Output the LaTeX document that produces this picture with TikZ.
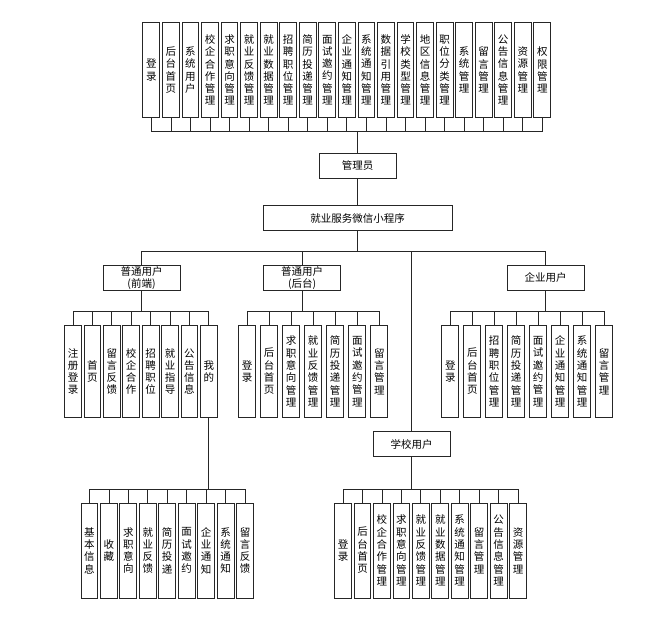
\documentclass[tikz,border=0pt]{standalone}
\usepackage{fontspec}
\setmainfont{Noto Sans CJK SC}

\begin{document}
\begin{tikzpicture}[x=1pt, y=-1pt,
    leaf/.style={rectangle, draw=black!85, line width=0.9pt, fill=white,
                 minimum width=16.8pt, minimum height=95pt, inner sep=0pt,
                 align=center, font=\fontsize{10.5}{12.3}\selectfont},
    leafs/.style={leaf, minimum height=92.5pt},
    role/.style={rectangle, draw=black!85, line width=0.9pt, fill=white,
                 minimum width=77pt, minimum height=25pt, inner sep=0pt,
                 align=center, font=\fontsize{10.5}{12}\selectfont},
    link/.style={draw=black!85, line width=0.8pt}
]
\useasboundingbox (0,0) rectangle (647,630);

% admin functions
\node[leaf] (t1) at (151.3,70) {登\\录};
\node[leaf] (t2) at (170.9,70) {后\\台\\首\\页};
\node[leaf] (t3) at (190.4,70) {系\\统\\用\\户};
\node[leaf] (t4) at (210.0,70) {校\\企\\合\\作\\管\\理};
\node[leaf] (t5) at (229.5,70) {求\\职\\意\\向\\管\\理};
\node[leaf] (t6) at (249.1,70) {就\\业\\反\\馈\\管\\理};
\node[leaf] (t7) at (268.6,70) {就\\业\\数\\据\\管\\理};
\node[leaf] (t8) at (288.2,70) {招\\聘\\职\\位\\管\\理};
\node[leaf] (t9) at (307.7,70) {简\\历\\投\\递\\管\\理};
\node[leaf] (t10) at (327.3,70) {面\\试\\邀\\约\\管\\理};
\node[leaf] (t11) at (346.8,70) {企\\业\\通\\知\\管\\理};
\node[leaf] (t12) at (366.4,70) {系\\统\\通\\知\\管\\理};
\node[leaf] (t13) at (385.9,70) {数\\据\\引\\用\\管\\理};
\node[leaf] (t14) at (405.5,70) {学\\校\\类\\型\\管\\理};
\node[leaf] (t15) at (425.0,70) {地\\区\\信\\息\\管\\理};
\node[leaf] (t16) at (444.6,70) {职\\位\\分\\类\\管\\理};
\node[leaf] (t17) at (464.1,70) {系\\统\\管\\理};
\node[leaf] (t18) at (483.7,70) {留\\言\\管\\理};
\node[leaf] (t19) at (503.2,70) {公\\告\\信\\息\\管\\理};
\node[leaf] (t20) at (522.8,70) {资\\源\\管\\理};
\node[leaf] (t21) at (542.3,70) {权\\限\\管\\理};

% roles
\node[role] (adm) at (357.5,165.5) {管理员};
\node[role, minimum width=189pt] (app) at (357.5,218.3) {就业服务微信小程序};
\node[role] (uf) at (141.5,277.8) {普通用户\\(前端)};
\node[role] (ub) at (302.2,277.8) {普通用户\\(后台)};
\node[role] (ue) at (545.5,277.8) {企业用户};
\node[role] (us) at (411.7,444.2) {学校用户};

% ordinary user, front end
\node[leafs] (f1) at (73.0,371.5) {注\\册\\登\\录};
\node[leafs] (f2) at (92.4,371.5) {首\\页};
\node[leafs] (f3) at (111.8,371.5) {留\\言\\反\\馈};
\node[leafs] (f4) at (131.2,371.5) {校\\企\\合\\作};
\node[leafs] (f5) at (150.6,371.5) {招\\聘\\职\\位};
\node[leafs] (f6) at (170.0,371.5) {就\\业\\指\\导};
\node[leafs] (f7) at (189.4,371.5) {公\\告\\信\\息};
\node[leafs] (f8) at (208.8,371.5) {我\\的};

% ordinary user, back end
\node[leafs] (b1) at (247.0,371.5) {登\\录};
\node[leafs] (b2) at (269.1,371.5) {后\\台\\首\\页};
\node[leafs] (b3) at (291.1,371.5) {求\\职\\意\\向\\管\\理};
\node[leafs] (b4) at (313.2,371.5) {就\\业\\反\\馈\\管\\理};
\node[leafs] (b5) at (335.2,371.5) {简\\历\\投\\递\\管\\理};
\node[leafs] (b6) at (357.3,371.5) {面\\试\\邀\\约\\管\\理};
\node[leafs] (b7) at (379.3,371.5) {留\\言\\管\\理};

% enterprise user
\node[leafs] (e1) at (450.3,371.5) {登\\录};
\node[leafs] (e2) at (472.3,371.5) {后\\台\\首\\页};
\node[leafs] (e3) at (494.2,371.5) {招\\聘\\职\\位\\管\\理};
\node[leafs] (e4) at (516.2,371.5) {简\\历\\投\\递\\管\\理};
\node[leafs] (e5) at (538.2,371.5) {面\\试\\邀\\约\\管\\理};
\node[leafs] (e6) at (560.1,371.5) {企\\业\\通\\知\\管\\理};
\node[leafs] (e7) at (582.1,371.5) {系\\统\\通\\知\\管\\理};
\node[leafs] (e8) at (604.0,371.5) {留\\言\\管\\理};

% mine
\node[leaf] (m1) at (89.4,550.5) {基\\本\\信\\息};
\node[leaf] (m2) at (108.9,550.5) {收\\藏};
\node[leaf] (m3) at (128.3,550.5) {求\\职\\意\\向};
\node[leaf] (m4) at (147.8,550.5) {就\\业\\反\\馈};
\node[leaf] (m5) at (167.2,550.5) {简\\历\\投\\递};
\node[leaf] (m6) at (186.7,550.5) {面\\试\\邀\\约};
\node[leaf] (m7) at (206.1,550.5) {企\\业\\通\\知};
\node[leaf] (m8) at (225.6,550.5) {系\\统\\通\\知};
\node[leaf] (m9) at (245.0,550.5) {留\\言\\反\\馈};

% school user
\node[leaf] (s1) at (343.0,550.5) {登\\录};
\node[leaf] (s2) at (362.5,550.5) {后\\台\\首\\页};
\node[leaf] (s3) at (381.9,550.5) {校\\企\\合\\作\\管\\理};
\node[leaf] (s4) at (401.4,550.5) {求\\职\\意\\向\\管\\理};
\node[leaf] (s5) at (420.8,550.5) {就\\业\\反\\馈\\管\\理};
\node[leaf] (s6) at (440.3,550.5) {就\\业\\数\\据\\管\\理};
\node[leaf] (s7) at (459.7,550.5) {系\\统\\通\\知\\管\\理};
\node[leaf] (s8) at (479.2,550.5) {留\\言\\管\\理};
\node[leaf] (s9) at (498.6,550.5) {公\\告\\信\\息\\管\\理};
\node[leaf] (s10) at (518.1,550.5) {资\\源\\管\\理};

% connectors
\foreach \i in {1,...,21} \draw[link] (adm.north) -- ++(0,-21) -| (t\i.south);
\draw[link] (adm) -- (app);
\foreach \n in {uf,ub,ue,us} \draw[link] (app.south) -- ++(0,20) -| (\n.north);
\foreach \i in {1,...,8} \draw[link] (uf.south) -- ++(0,21) -| (f\i.north);
\foreach \i in {1,...,7} \draw[link] (ub.south) -- ++(0,21) -| (b\i.north);
\foreach \i in {1,...,8} \draw[link] (ue.south) -- ++(0,21) -| (e\i.north);
\foreach \i in {1,...,9} \draw[link] (f8.south) -- ++(0,71) -| (m\i.north);
\foreach \i in {1,...,10} \draw[link] (us.south) -- ++(0,32.3) -| (s\i.north);
\end{tikzpicture}
\end{document}
